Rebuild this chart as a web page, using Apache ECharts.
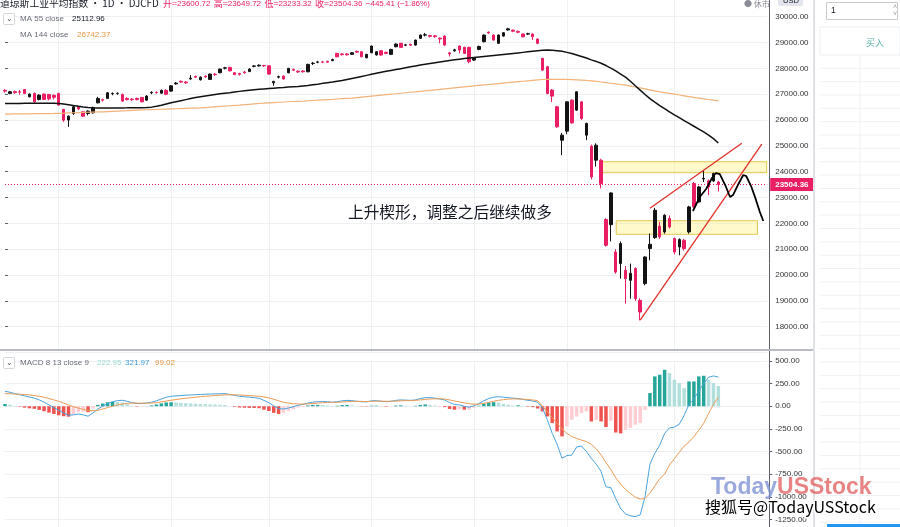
<!DOCTYPE html>
<html>
<head>
<meta charset="utf-8">
<script src="https://cdn.jsdelivr.net/npm/echarts@6/dist/echarts.min.js"></script>
<style>
html, body { margin: 0; padding: 0; background: #fff; }
#main { width: 900px; height: 527px; }
</style>
</head>
<body>
<div id="main"></div>
<script>
// 交易日 (2019-09-16 起)，右侧留 10 个空位
var holidays = ['2019-11-28', '2019-12-25', '2020-01-01', '2020-01-20', '2020-02-17', '2020-04-10'];
var firstDay = '2019-09-16';
var slotCount = 157;

// K线 [开, 收, 低, 高]
var ohlc = [
[27150,27120,27060,27200],[27030,27095,27000,27130],[27100,27060,27020,27140],[27090,27080,26980,27160],[27186,27031,27000,27200],
[26900,27004,26880,27030],[27031,26705,26680,27060],[26798,26965,26760,27000],[27004,26798,26770,27030],[26990,26820,26760,27010],
[26960,26880,26800,26990],[27031,26578,26560,27050],[26411,25996,25930,26430],[26000,26151,25736,26180],[26256,26512,26200,26540],
[26512,26430,26380,26560],[26318,26151,26120,26350],[26256,26345,26180,26380],[26279,26488,26250,26520],[26667,26837,26640,26900],
[26790,26771,26720,26820],[26837,27054,26820,27080],[27020,27031,26960,27070],[27025,27035,26980,27070],[26992,26733,26710,27020],
[26837,26790,26760,26880],[26810,26790,26740,26850],[26837,26790,26760,26870],[26876,26705,26690,26890],[26771,26927,26740,26960],
[27060,27075,27000,27110],[27075,27065,27020,27110],[27040,27150,27020,27180],[27150,27000,26965,27190],[27120,27325,27100,27350],
[27400,27430,27370,27470],[27500,27470,27440,27530],[27470,27440,27400,27510],[27590,27620,27560,27740],[27690,27660,27630,27720],
[27560,27660,27530,27690],[27700,27670,27640,27730],[27574,27779,27550,27800],[27770,27760,27700,27820],[27830,27973,27810,27990],
[28010,28020,27960,28060],[28039,27907,27880,28060],[27830,27760,27740,27860],[27800,27770,27720,27830],[27860,27830,27800,27900],
[27875,27975,27860,28000],[28080,28095,28040,28120],[28095,28125,28070,28150],[28110,28100,28060,28140],[28101,27779,27760,28120],
[27440,27495,27325,27520],[27660,27680,27610,27720],[27702,27590,27570,27730],[27830,28000,27810,28020],[27960,27930,27900,27990],
[27890,27860,27830,27920],[27900,27870,27840,27930],[27868,28155,27850,28180],[28190,28200,28130,28250],[28240,28250,28200,28290],
[28250,28240,28200,28290],[28270,28240,28210,28300],[28300,28340,28280,28380],[28581,28450,28430,28600],[28560,28530,28500,28590],
[28560,28525,28500,28590],[28543,28605,28520,28630],[28660,28630,28600,28690],[28644,28450,28430,28670],[28411,28543,28390,28560],
[28605,28864,28590,28880],[28520,28644,28500,28670],[28683,28516,28490,28710],[28620,28580,28550,28650],[28543,28735,28520,28760],
[28837,28942,28820,28970],[28969,28814,28790,28990],[28900,28910,28860,28950],[28930,28900,28870,28960],[28903,29097,28880,29110],
[29163,29291,29150,29310],[29290,29300,29240,29370],[29270,29240,29200,29300],[29260,29230,29190,29290],[29170,29140,28970,29200],
[29252,28903,28880,29280],[28600,28560,28460,28640],[28680,28720,28640,28760],[28864,28709,28581,28890],[28814,28581,28560,28840],
[28814,28257,28200,28840],[28322,28388,28290,28420],[28736,28849,28700,28880],[29031,29291,29010,29310],[29400,29370,29340,29430],
[29291,29097,29070,29320],[28969,29291,28950,29310],[29252,29380,29230,29410],[29490,29530,29460,29570],[29480,29440,29400,29510],
[29430,29400,29360,29470],[29330,29225,29200,29350],[29330,29340,29290,29380],[29330,29225,29100,29360],[29136,28969,28940,29160],
[28388,27934,27900,28400],[28062,27031,27000,28100],[27159,26927,26700,27200],[26512,25736,25700,26550],[25221,25415,24640,25500],
[25570,26705,25450,26720],[26771,25892,25850,26800],[26384,27093,26350,27110],[26705,26062,26000,26730],[25415,25868,25221,25900],
[24989,23799,23700,25050],[24446,25027,24200,25100],[24446,23543,23349,24500],[22147,21151,21100,22200],[21950,23178,21300,23200],
[20891,20116,20050,21000],[20442,21217,19860,21300],[20182,19860,18891,20350],[19795,20066,19085,20442],[20248,19085,19000,20300],
[19019,18566,18244,19100],[19667,20698,19600,20720],[21023,21190,20570,21605],[21450,22508,21400,22600],[21888,21473,21400,22050],
[21667,22314,21600,22350],[22186,21861,21800,22300],[21411,20891,20800,21450],[21086,21373,20763,21420],[21345,21023,20950,21400],
[21667,22636,21600,22680],[23543,22636,22600,23600],[22830,23411,22800,23450],[23720,23740,23600,24050],[23644,23411,23089,23700],
[23644,23930,23600,23960],[23600.72,23504.36,23233.32,23649.72]
];

var ma55 = [
26640,26640,26645,26645,26650,26650,26650,26650,26650,26650,
26648,26640,26620,26595,26560,26530,26505,26485,26475,26470,
26465,26465,26465,26468,26470,26472,26475,26478,26480,26488,
26500,26530,26570,26620,26670,26710,26750,26790,26830,26870,
26900,26930,26960,26990,27015,27040,27060,27085,27110,27130,
27150,27170,27190,27205,27220,27235,27250,27262,27275,27288,
27300,27320,27340,27365,27390,27420,27445,27470,27500,27530,
27570,27610,27650,27690,27730,27770,27810,27850,27885,27920,
27955,27990,28025,28060,28095,28130,28160,28190,28220,28250,
28280,28305,28330,28355,28380,28400,28420,28440,28460,28480,
28500,28520,28540,28560,28580,28600,28620,28640,28660,28680,
28700,28710,28700,28685,28660,28620,28575,28520,28460,28400,
28330,28270,28200,28110,28010,27900,27780,27660,27500,27330,
27160,26990,26830,26690,26560,26440,26320,26200,26090,25980,
25870,25760,25650,25540,25420,25280,25112.96
];

var ma144 = [
26230,26232,26235,26237,26240,26242,26245,26247,26250,26252,
26255,26262,26268,26275,26282,26288,26295,26302,26308,26314,
26320,26329,26338,26347,26356,26365,26375,26384,26391,26398,
26404,26410,26417,26424,26431,26437,26444,26451,26458,26464,
26470,26484,26498,26512,26526,26540,26553,26567,26580,26595,
26610,26625,26640,26654,26668,26678,26688,26698,26708,26717,
26726,26735,26746,26757,26768,26780,26791,26802,26814,26826,
26838,26850,26869,26888,26906,26925,26943,26962,26981,27000,
27018,27037,27056,27075,27093,27112,27131,27150,27169,27188,
27207,27226,27245,27264,27283,27302,27321,27340,27358,27376,
27394,27412,27430,27448,27466,27484,27502,27520,27538,27555,
27570,27574,27576,27577,27576,27572,27566,27558,27545,27532,
27520,27497,27473,27449,27425,27401,27377,27353,27316,27279,
27242,27205,27168,27131,27093,27062,27031,27000,26969,26938,
26907,26876,26850,26823,26796,26769,26742.37
];

// MACD 8 13 9
var macdLine = [
165,155,140,128,115,102,90,70,45,15,
-15,-45,-75,-100,-95,-85,-95,-110,-75,-30,
0,29,50,62,66,55,40,30,30,35,
45,60,80,100,110,115,118,122,125,128,
130,133,135,137,138,140,130,120,110,105,
100,95,88,65,40,5,-26,-30,-20,-5,
11,20,35,45,50,52,50,45,50,60,
65,62,55,50,48,60,62,55,50,55,
65,70,68,65,70,85,95,95,90,80,
70,40,20,15,0,-10,5,30,60,85,
100,105,100,95,90,85,75,65,59,45,
-20,-150,-300,-420,-575,-545,-540,-450,-440,-500,
-575,-640,-720,-890,-900,-1020,-1130,-1190,-1210,-1220,
-1200,-1000,-640,-520,-430,-300,-240,-230,-200,-100,
20,80,170,250,320,335,321.97
];
var signalLine = [
140,138,135,133,130,125,118,110,100,85,
70,55,35,15,-5,-20,-35,-45,-50,-45,
-30,-15,0,15,25,32,35,35,34,34,
36,40,48,58,66,74,82,88,94,100,
105,110,114,118,122,126,127,126,124,121,
118,114,110,103,92,78,60,45,35,28,
25,24,26,30,35,39,42,43,44,47,
50,53,54,53,52,54,56,56,55,55,
57,60,62,63,65,70,75,80,82,82,
80,70,58,48,38,28,22,24,32,42,
55,65,73,78,82,80,78,74,70,62,
0,-60,-125,-190,-250,-300,-335,-355,-375,-390,
-420,-470,-540,-620,-700,-790,-860,-920,-965,-1005,
-1025,-1020,-960,-880,-800,-750,-650,-580,-510,-440,
-395,-335,-265,-190,-80,20,99.02
];
var macdHist = [
25,17,5,-5,-15,-23,-28,-40,-55,-70,
-85,-100,-110,-115,-90,-65,-60,-65,-25,15,
30,44,50,47,41,23,5,-5,-4,1,
9,20,32,42,44,41,36,34,31,28,
25,23,21,19,16,14,3,-6,-14,-16,
-18,-19,-22,-38,-52,-73,-86,-75,-55,-33,
-14,-4,9,15,15,13,8,2,6,13,
15,9,1,-3,-4,6,6,-1,-5,0,
8,10,6,2,5,15,20,15,8,-2,
-10,-30,-38,-33,-38,-38,-17,6,28,43,
45,40,27,17,8,10,5,-5,-10,-25,
-57,-113,-186,-278,-333,-223,-149,-113,-76,-57,
-168,-150,-168,-230,-160,-290,-300,-260,-241,-204,
-186,-40,146,330,348,403,366,293,256,200,
274,274,330,337,293,256,222.95
];

// 画线标注 (横坐标为K线序号)
var wedgeUpper = [[132.0, 22582], [150.8, 25099]];
var wedgeLower = [[130.0, 18258], [154.9, 25072]];
var projection = [
[140.8, 22478], [142.2, 23020], [143.5, 23330], [144.7, 23755], [145.5, 23949], [146.3, 23910],
[147.4, 23484], [148.4, 23020], [149.0, 23097], [150.0, 23484], [151.1, 23871], [151.7, 23833],
[152.7, 23445], [153.5, 23020], [154.5, 22439], [155.2, 22091]
];
var zones = [[122.1, 24386, 155.9, 23960], [125.1, 22102, 154.0, 21576]];
var lastPrice = 23504.36;

var PINK = '#e91e63';
var FONT = 'Liberation Sans, Arial, sans-serif';
var CJK = 'Noto Sans CJK SC, sans-serif';

function buildDays() {
    var out = [];
    var d = new Date(firstDay + 'T00:00:00Z');
    while (out.length < slotCount) {
        var s = d.toISOString().slice(0, 10);
        var wd = d.getUTCDay();
        if (wd !== 0 && wd !== 6 && holidays.indexOf(s) < 0) out.push(s);
        d.setUTCDate(d.getUTCDate() + 1);
    }
    return out;
}
var days = buildDays();

function isMonthStart(idx) {
    return idx > 0 && days[idx].slice(5, 7) !== days[idx - 1].slice(5, 7);
}

function histColor(i) {
    var v = macdHist[i], p = i > 0 ? macdHist[i - 1] : v;
    if (v >= 0) return v >= p ? '#26a69a' : '#b2dfdb';
    return v < p ? '#ef5350' : '#ffcdd2';
}

function txt(x, y, s, color, size, family, extra) {
    var st = { text: s, fill: color, fontSize: size, fontFamily: family || FONT, verticalAlign: 'middle' };
    for (var k in extra) st[k] = extra[k];
    return { type: 'text', x: x, y: y, z: 100, style: st };
}

var chart = echarts.init(document.getElementById('main'));

var gridLineColor = '#eef0f4';
var xCat = function(grid) {
    return {
        type: 'category', gridIndex: grid, data: days, boundaryGap: false,
        axisLine: { show: false }, axisTick: { show: false }, axisLabel: { show: false },
        splitLine: { show: true, interval: function(idx) { return isMonthStart(idx); }, lineStyle: { color: gridLineColor } }
    };
};

var graphics = [];
// 右侧面板
graphics.push({ type: 'rect', shape: { x: 815, y: 0, width: 85, height: 527 }, style: { fill: '#fff' }, z: 90 });
for (var ty = 68.3; ty < 527; ty += 13.35) {
    graphics.push({ type: 'line', shape: { x1: 820, y1: ty, x2: 900, y2: ty }, style: { stroke: '#f0f1f4', lineWidth: 1 }, z: 91 });
}
graphics.push({ type: 'line', shape: { x1: 860, y1: 55, x2: 860, y2: 527 }, style: { stroke: '#f0f1f4', lineWidth: 1 }, z: 91 });
graphics.push({ type: 'rect', shape: { x: 820, y: 27, width: 80, height: 28 }, style: { fill: '#fff', stroke: '#eceef2', lineWidth: 1 }, z: 92 });
graphics.push({ type: 'rect', shape: { x: 826.5, y: 2.5, width: 71, height: 17 }, style: { fill: '#fff', stroke: '#c8cad0', lineWidth: 1 }, z: 92 });
graphics.push(txt(831, 11, '1', '#131722', 8.5));
graphics.push(txt(893, 7, '˄', '#999', 7));
graphics.push(txt(893, 14, '˅', '#999', 7));
graphics.push(txt(866, 43, '买入', '#5bb5ad', 9, CJK));
graphics.push({ type: 'rect', shape: { x: 813, y: 0, width: 2, height: 527 }, style: { fill: '#dfe1e6' }, z: 93 });
graphics.push({ type: 'rect', shape: { x: 827, y: 524, width: 73, height: 3 }, style: { fill: '#2196f3' }, z: 93 });
// 坐标轴线与分隔线
graphics.push({ type: 'line', shape: { x1: 769.5, y1: 0, x2: 769.5, y2: 527 }, style: { stroke: '#5d606b', lineWidth: 1 }, z: 95 });
graphics.push({ type: 'rect', shape: { x: 0, y: 349, width: 813, height: 2 }, style: { fill: '#b8bbc2' }, z: 95 });
// 标题
graphics.push(txt(0, 3.5, '道琼斯工业平均指数 · 1D · DJCFD', '#131722', 9.8, CJK));
graphics.push({ type: 'text', x: 163, y: 3.5, z: 100, style: {
    text: '{l|开=}{v|23600.72} {l|高=}{v|23649.72} {l|低=}{v|23233.32} {l|收=}{v|23504.36} {v|−445.41 (−1.86%)}',
    verticalAlign: 'middle',
    rich: {
        l: { fill: PINK, fontSize: 9, fontFamily: CJK },
        v: { fill: PINK, fontSize: 8, fontFamily: FONT }
    }
} });
graphics.push(txt(744, 4, '● 休市', '#8a8d96', 8, CJK));
graphics.push({ type: 'rect', shape: { x: 778, y: -4, width: 25, height: 10, r: 2 }, style: { fill: '#e3e6ee' }, z: 99 });
graphics.push(txt(783, 1, 'USD', '#131722', 7.5));
// 图例
graphics.push({ type: 'rect', shape: { x: 3.5, y: 13.5, width: 11, height: 11, r: 1 }, style: { fill: '#fff', stroke: '#d4d6dc' }, z: 99 });
graphics.push(txt(6, 18.5, '⌄', '#555', 8));
graphics.push(txt(20, 19, 'MA 55 close', '#6a6d78', 8));
graphics.push(txt(72, 19, '25112.96', '#131722', 8));
graphics.push(txt(20, 35, 'MA 144 close', '#6a6d78', 8));
graphics.push(txt(77, 35, '26742.37', '#e8963d', 8));
graphics.push({ type: 'rect', shape: { x: 3.5, y: 357.5, width: 11, height: 11, r: 1 }, style: { fill: '#fff', stroke: '#d4d6dc' }, z: 99 });
graphics.push(txt(6, 362.5, '⌄', '#555', 8));
graphics.push(txt(20, 363, 'MACD 8 13 close 9', '#6a6d78', 8));
graphics.push(txt(97, 363, '222.95', '#9fd8d1', 8));
graphics.push(txt(125, 363, '321.97', '#3c9bd6', 8));
graphics.push(txt(155, 363, '99.02', '#e8963d', 8));
// 文字标注
graphics.push(txt(348, 212, '上升楔形，调整之后继续做多', '#131722', 15.7, CJK));
// 水印
graphics.push({ type: 'text', x: 711, y: 488, z: 110, style: {
    text: '{a|Today}{b|USStock}', verticalAlign: 'middle',
    rich: {
        a: { fill: 'rgba(120,140,210,0.75)', fontSize: 23, fontWeight: 'bold', fontFamily: FONT },
        b: { fill: 'rgba(226,90,90,0.75)', fontSize: 23, fontWeight: 'bold', fontFamily: FONT }
    }
} });
graphics.push(txt(705, 507, '搜狐号@TodayUSStock', '#000', 16, CJK, { stroke: '#fff', lineWidth: 3 }));

var option = {
    animation: false,
    backgroundColor: '#fff',
    grid: [
        { left: 5, right: 132.8, top: -9.1, height: 361.6, outerBoundsMode: 'none', containLabel: false },
        { left: 5, right: 132.8, top: 361, height: 181, outerBoundsMode: 'none', containLabel: false }
    ],
    xAxis: [
        xCat(0),
        { type: 'value', gridIndex: 0, min: 0, max: slotCount - 1, show: false },
        xCat(1)
    ],
    yAxis: [
        {
            gridIndex: 0, position: 'right', offset: 2, min: 17000, max: 31000, interval: 1000,
            axisLine: { show: false },
            axisTick: { show: true, length: 3, lineStyle: { color: '#5d606b' } },
            axisLabel: { showMinLabel: false, showMaxLabel: false, margin: 6, color: '#333', fontSize: 8, fontFamily: FONT,
                formatter: function(v) { return v.toFixed(2); } },
            splitLine: { lineStyle: { color: gridLineColor } }
        },
        {
            gridIndex: 1, position: 'right', offset: 2, min: -1500, max: 500, interval: 250,
            axisLine: { show: false },
            axisTick: { show: true, length: 3, lineStyle: { color: '#5d606b' } },
            axisLabel: { showMinLabel: false, margin: 6, color: '#333', fontSize: 8, fontFamily: FONT,
                formatter: function(v) { return v.toFixed(2); } },
            splitLine: { lineStyle: { color: gridLineColor } }
        }
    ],
    series: [
        {
            name: 'zones', type: 'custom', xAxisIndex: 1, yAxisIndex: 0, z: 1,
            data: zones,
            renderItem: function(params, api) {
                var p1 = api.coord([api.value(0), api.value(1)]);
                var p2 = api.coord([api.value(2), api.value(3)]);
                return { type: 'rect', shape: { x: p1[0], y: p1[1], width: p2[0] - p1[0], height: p2[1] - p1[1] },
                    style: { fill: 'rgba(255,238,120,0.38)', stroke: '#e3c84e', lineWidth: 1 } };
            }
        },
        {
            name: 'DJCFD', type: 'candlestick', xAxisIndex: 0, yAxisIndex: 0, z: 3,
            data: ohlc, barWidth: 3,
            itemStyle: { color: '#131313', color0: PINK, borderColor: '#131313', borderColor0: PINK, borderWidth: 1 },
            markLine: {
                silent: true, symbol: 'none',
                lineStyle: { color: PINK, type: [1, 2], width: 1 },
                label: { show: true, position: 'end', distance: 3, formatter: lastPrice.toFixed(2),
                    color: '#fff', backgroundColor: PINK, padding: [3, 5, 2, 5], fontSize: 8, fontWeight: 'bold', fontFamily: FONT },
                data: [{ yAxis: lastPrice }]
            }
        },
        {
            name: 'MA 144', type: 'line', xAxisIndex: 0, yAxisIndex: 0, z: 4, data: ma144,
            symbol: 'none', lineStyle: { color: '#f2b279', width: 1.2 }
        },
        {
            name: 'MA 55', type: 'line', xAxisIndex: 0, yAxisIndex: 0, z: 4, data: ma55,
            symbol: 'none', lineStyle: { color: '#111', width: 1.5 }
        },
        {
            type: 'line', xAxisIndex: 1, yAxisIndex: 0, z: 5, data: wedgeUpper,
            symbol: 'none', lineStyle: { color: '#e0312b', width: 1.3 }
        },
        {
            type: 'line', xAxisIndex: 1, yAxisIndex: 0, z: 5, data: wedgeLower,
            symbol: 'none', lineStyle: { color: '#e0312b', width: 1.3 }
        },
        {
            type: 'line', xAxisIndex: 1, yAxisIndex: 0, z: 5, data: projection,
            symbol: 'none', lineStyle: { color: '#000', width: 1.8 }
        },
        {
            name: 'Histogram', type: 'bar', xAxisIndex: 2, yAxisIndex: 1, z: 2, barWidth: 3.5,
            data: macdHist.map(function(v, i) { return { value: v, itemStyle: { color: histColor(i) } }; })
        },
        {
            name: 'MACD', type: 'line', xAxisIndex: 2, yAxisIndex: 1, z: 3, data: macdLine,
            symbol: 'none', lineStyle: { color: '#4aa3dc', width: 1 }
        },
        {
            name: 'Signal', type: 'line', xAxisIndex: 2, yAxisIndex: 1, z: 3, data: signalLine,
            symbol: 'none', lineStyle: { color: '#eb9b55', width: 1 }
        }
    ],
    graphic: graphics
};

chart.setOption(option);
</script>
</body>
</html>
